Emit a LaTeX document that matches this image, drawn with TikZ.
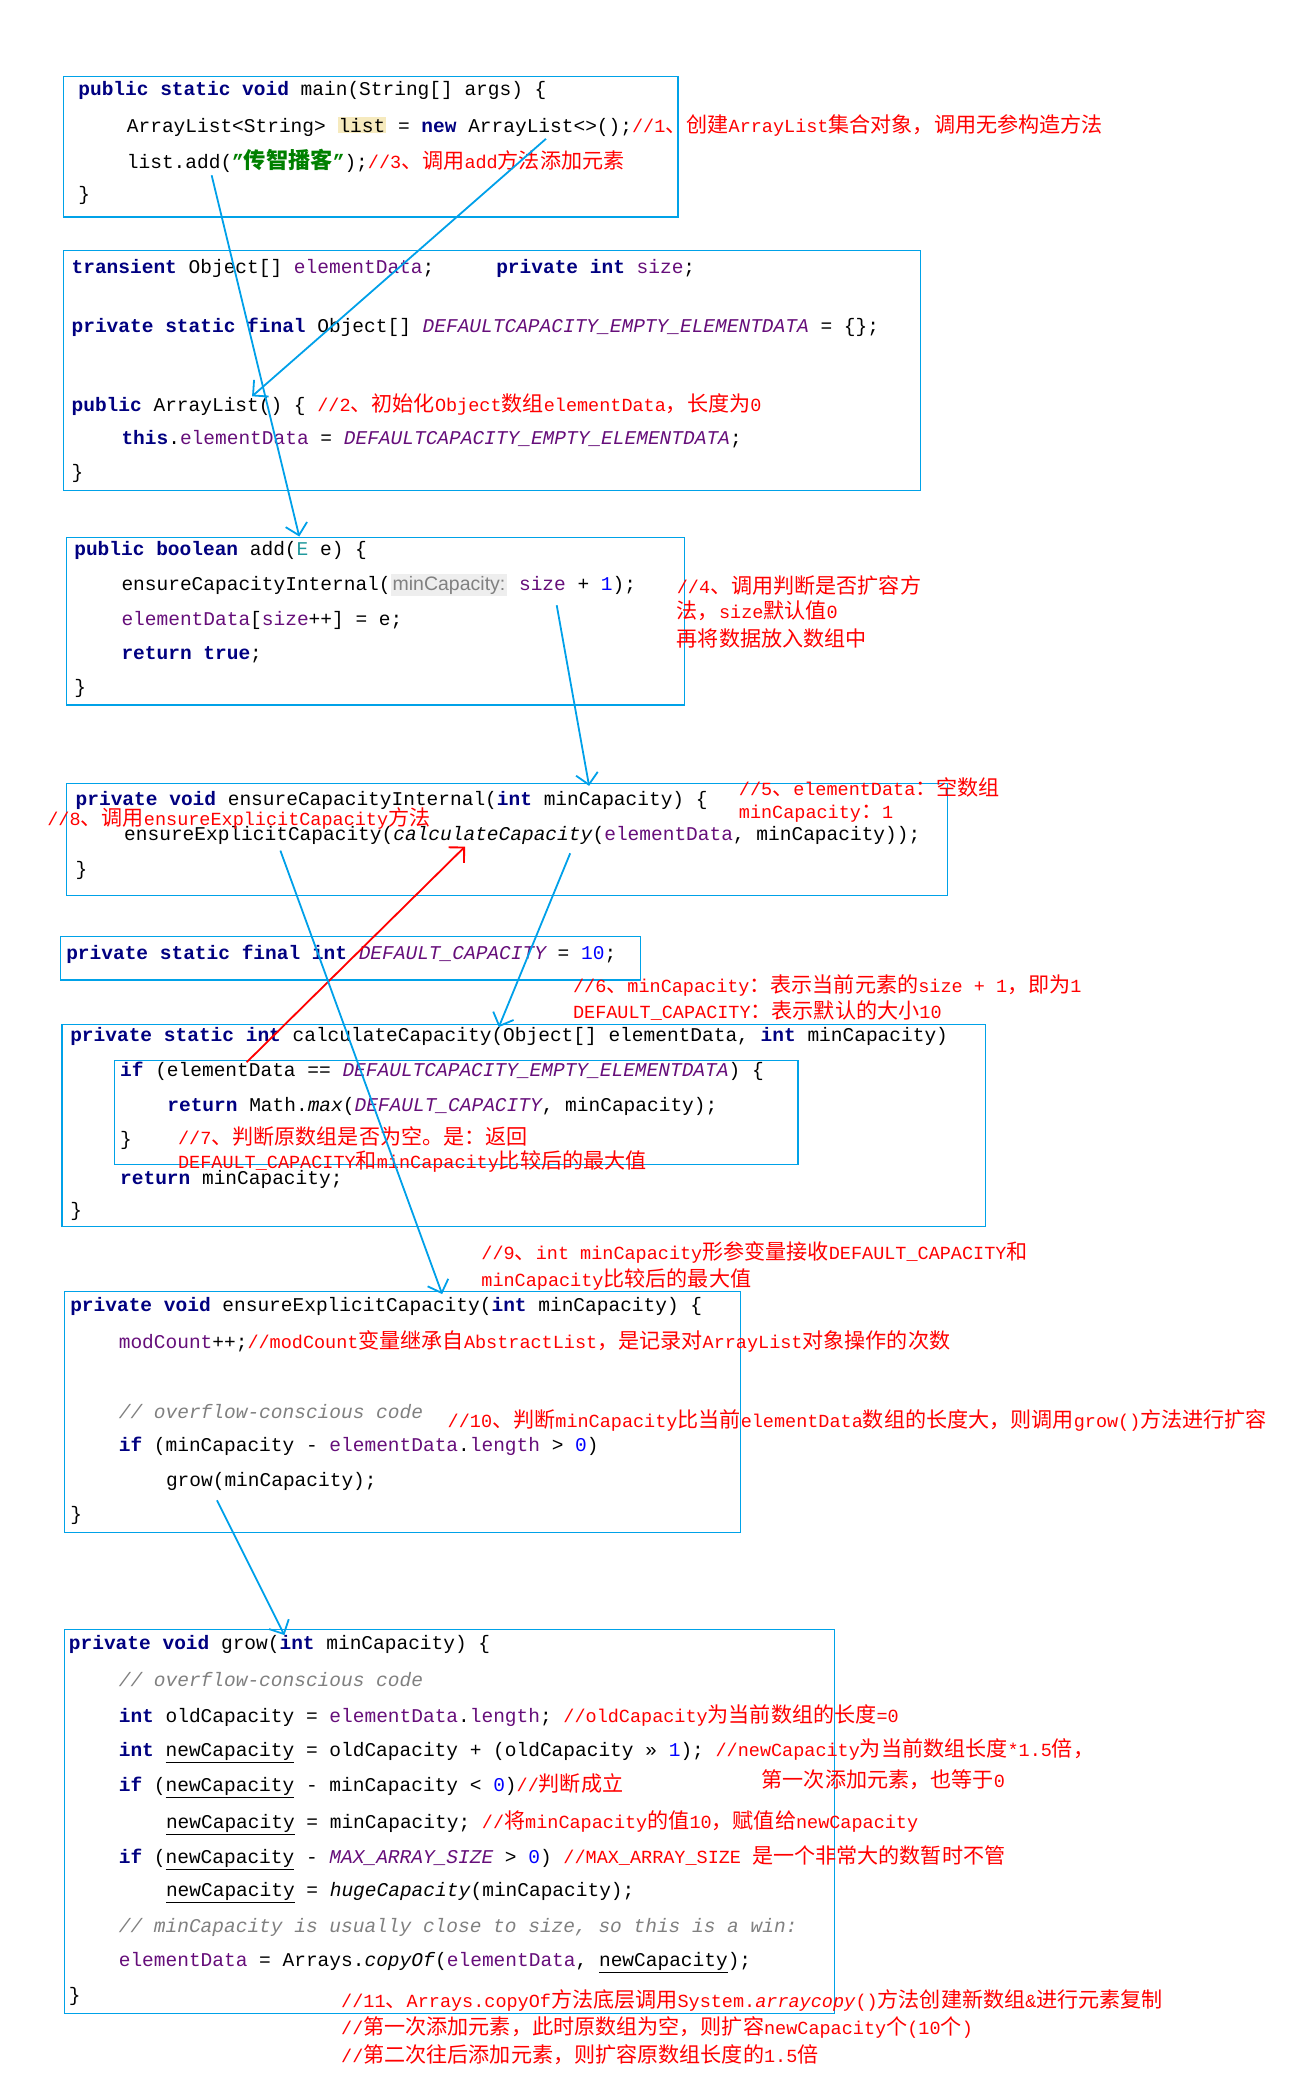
\documentclass[tikz,border=0pt]{standalone}
\usepackage{fontspec}
\usetikzlibrary{arrows.meta,fit}
\setmainfont{Liberation Mono}
\setsansfont{Liberation Sans}
\newfontfamily\cjk{Noto Sans CJK SC}[Scale=1.14]
\XeTeXinterchartokenstate=1
\newXeTeXintercharclass\cjkclass
\count255="3000
\loop\XeTeXcharclass\count255=\cjkclass\ifnum\count255<"303F \advance\count255 by 1 \repeat
\count255="4E00
\loop\XeTeXcharclass\count255=\cjkclass\ifnum\count255<"9FFF \advance\count255 by 1 \repeat
\count255="FF00
\loop\XeTeXcharclass\count255=\cjkclass\ifnum\count255<"FFEF \advance\count255 by 1 \repeat
\XeTeXinterchartoks 0 \cjkclass={\begingroup\cjk}
\XeTeXinterchartoks 4095 \cjkclass={\begingroup\cjk}
\XeTeXinterchartoks \cjkclass 0={\endgroup}
\XeTeXinterchartoks \cjkclass 4095={\endgroup}
\definecolor{kwc}{RGB}{0,0,128}
\definecolor{fdc}{RGB}{102,14,122}
\definecolor{nmc}{RGB}{0,0,255}
\definecolor{stc}{RGB}{0,128,0}
\definecolor{cmc}{RGB}{128,128,128}
\definecolor{rdc}{RGB}{255,0,0}
\definecolor{bxc}{RGB}{0,162,232}
\definecolor{arc}{RGB}{0,160,233}
\newcommand\kw[1]{{\bfseries\color{kwc}#1}}
\newcommand\fd[1]{{\color{fdc}#1}}
\newcommand\fdi[1]{{\itshape\color{fdc}#1}}
\newcommand\nm[1]{{\color{nmc}#1}}
\newcommand\cmt[1]{{\itshape\color{cmc}#1}}
\newcommand\rcm[1]{{\fontsize{18.5}{19}\selectfont\color{rdc}#1}}
\newcommand\ul[1]{\underline{#1}}
\tikzset{
  code/.style={anchor=west,inner sep=0pt,font=\fontsize{19.5}{20}\selectfont},
  note/.style={anchor=west,inner sep=0pt,text=rdc,font=\fontsize{18.5}{19}\selectfont},
  box/.style={draw=bxc,line width=1.1pt,inner sep=0pt},
  flow/.style={draw=arc,line width=1.8pt,-{Straight Barb[length=11pt,width=22pt]}},
  flowr/.style={draw=rdc,line width=1.8pt,-{Straight Barb[length=11pt,width=22pt]}}
}
\begin{document}
\begin{tikzpicture}[x=1.348pt,y=-1.348pt]
\useasboundingbox[fill=white] (0,0) rectangle (966,1556.4);
% boxes
\node[box,fit={(47,57)(503,161)}] (b1) {};
\node[box,fit={(47,186)(683,364)}] (b2) {};
\node[box,fit={(49,399)(508,523)}] (b3) {};
\node[box,fit={(49,581)(703,664)}] (b4) {};
\node[box,fit={(45,695)(475,727)}] (b5) {};
\node[box,fit={(46,760)(731,910)}] (b6) {};
\node[box,fit={(85,787)(592,864)}] (b6i) {};
\node[box,fit={(48,958)(549,1137)}] (b7) {};
\node[box,fit={(48,1209)(619,1494)}] (b8) {};
% box 1
\node[code] (t11) at (58,67) {\kw{public} \kw{static} \kw{void} main(String[] args) \{};
\node[code] (t12) at (94,93) {ArrayList<String> {\fboxsep=1pt\colorbox[RGB]{246,234,190}{list}} = \kw{new} ArrayList<>();\rcm{//1、创建ArrayList集合对象，调用无参构造方法}};
\node[code] (t13) at (94,119) {list.add({\bfseries\color{stc}"传智播客"});\rcm{//3、调用add方法添加元素}};
\node[code] (t14) at (58,145) {\}};
% box 2
\node[code] (t21) at (53,199) {\kw{transient} Object[] \fd{elementData};};
\node[code] (t22) at (368,199) {\kw{private} \kw{int} \fd{size};};
\node[code] (t23) at (53,243) {\kw{private} \kw{static} \kw{final} Object[] \fdi{DEFAULTCAPACITY\_EMPTY\_ELEMENTDATA} = \{\};};
\node[code] (t24) at (53,300) {\kw{public} ArrayList() \{ \rcm{//2、初始化Object数组elementData，长度为0}};
\node[code] (t25) at (90,326) {\kw{this}.\fd{elementData} = \fdi{DEFAULTCAPACITY\_EMPTY\_ELEMENTDATA};};
\node[code] (t26) at (53,351) {\}};
% box 3
\node[code] (t31) at (55,408) {\kw{public} \kw{boolean} add({\color[RGB]{32,153,157}E} e) \{};
\node[code] (t32) at (90,434) {ensureCapacityInternal({\fboxsep=2pt\colorbox[RGB]{238,238,238}{\sffamily\color{cmc}minCapacity:}} \fd{size} + \nm{1});};
\node[code] (t33) at (90,460) {\fd{elementData}[\fd{size}++] = e;};
\node[code] (t34) at (90,486) {\kw{return} \kw{true};};
\node[code] (t35) at (55,511) {\}};
\node[note] (n4a) at (502,434) {//4、调用判断是否扩容方};
\node[note] (n4b) at (502,453) {法，size默认值0};
\node[note] (n4c) at (502,474) {再将数据放入数组中};
% box 4
\node[code] (t41) at (56,594) {\kw{private} \kw{void} ensureCapacityInternal(\kw{int} minCapacity) \{};
\node[code] (t42) at (92,620) {ensureExplicitCapacity(\textit{calculateCapacity}(\fd{elementData}, minCapacity));};
\node[code] (t43) at (56,646) {\}};
\node[note] (n5a) at (548,584) {//5、elementData：空数组};
\node[note] (n5b) at (548,604) {minCapacity：1};
\node[note] (n8) at (35,607) {//8、调用ensureExplicitCapacity方法};
% box 5
\node[code] (t51) at (49,708) {\kw{private} \kw{static} \kw{final} \kw{int} \fdi{DEFAULT\_CAPACITY} = \nm{10};};
\node[note] (n6a) at (425,731) {//6、minCapacity：表示当前元素的size + 1，即为1};
\node[note] (n6b) at (425,750) {DEFAULT\_CAPACITY：表示默认的大小10};
% box 6
\node[code] (t61) at (52,769) {\kw{private} \kw{static} \kw{int} calculateCapacity(Object[] elementData, \kw{int} minCapacity)};
\node[code] (t62) at (89,795) {\kw{if} (elementData == \fdi{DEFAULTCAPACITY\_EMPTY\_ELEMENTDATA}) \{};
\node[code] (t63) at (124,821) {\kw{return} Math.\textit{max}(\fdi{DEFAULT\_CAPACITY}, minCapacity);};
\node[code] (t64) at (89,846) {\}};
\node[code] (t65) at (89,875) {\kw{return} minCapacity;};
\node[code] (t66) at (52,899) {\}};
\node[note] (n7a) at (132,843) {//7、判断原数组是否为空。是：返回};
\node[note] (n7b) at (132,862) {DEFAULT\_CAPACITY和minCapacity比较后的最大值};
\node[note] (n9a) at (357,929) {//9、int minCapacity形参变量接收DEFAULT\_CAPACITY和};
\node[note] (n9b) at (357,949) {minCapacity比较后的最大值};
% box 7
\node[code] (t71) at (52,969) {\kw{private} \kw{void} ensureExplicitCapacity(\kw{int} minCapacity) \{};
\node[code] (t72) at (88,995) {\fd{modCount}++;\rcm{//modCount变量继承自AbstractList，是记录对ArrayList对象操作的次数}};
\node[code] (t73) at (88,1047) {\cmt{// overflow-conscious code}};
\node[note] (n10) at (332,1054) {//10、判断minCapacity比当前elementData数组的长度大，则调用grow()方法进行扩容};
\node[code] (t74) at (88,1073) {\kw{if} (minCapacity - \fd{elementData}.\fd{length} > \nm{0})};
\node[code] (t75) at (123,1099) {grow(minCapacity);};
\node[code] (t76) at (52,1124) {\}};
% box 8
\node[code] (t81) at (51,1220) {\kw{private} \kw{void} grow(\kw{int} minCapacity) \{};
\node[code] (t82) at (88,1246) {\cmt{// overflow-conscious code}};
\node[code] (t83) at (88,1273) {\kw{int} oldCapacity = \fd{elementData}.\fd{length}; \rcm{//oldCapacity为当前数组的长度=0}};
\node[code] (t84) at (88,1299) {\kw{int} \ul{newCapacity} = oldCapacity + (oldCapacity >> \nm{1}); \rcm{//newCapacity为当前数组长度*1.5倍，}};
\node[note] (n84) at (565,1320) {第一次添加元素，也等于0};
\node[code] (t85) at (88,1325) {\kw{if} (\ul{newCapacity} - minCapacity < \nm{0})\rcm{//判断成立}};
\node[code] (t86) at (123,1352) {\ul{newCapacity} = minCapacity; \rcm{//将minCapacity的值10，赋值给newCapacity}};
\node[code] (t87) at (88,1378) {\kw{if} (\ul{newCapacity} - \fdi{MAX\_ARRAY\_SIZE} > \nm{0}) \rcm{//MAX\_ARRAY\_SIZE 是一个非常大的数暂时不管}};
\node[code] (t88) at (123,1404) {\ul{newCapacity} = \textit{hugeCapacity}(minCapacity);};
\node[code] (t89) at (88,1430) {\cmt{// minCapacity is usually close to size, so this is a win:}};
\node[code] (t8a) at (88,1456) {\fd{elementData} = Arrays.\textit{copyOf}(\fd{elementData}, \ul{newCapacity});};
\node[code] (t8b) at (51,1481) {\}};
\node[note] (n11a) at (253,1484) {//11、Arrays.copyOf方法底层调用System.\textit{arraycopy}()方法创建新数组\&进行元素复制};
\node[note] (n11b) at (253,1504) {//第一次添加元素，此时原数组为空，则扩容newCapacity个(10个)};
\node[note] (n11c) at (253,1524) {//第二次往后添加元素，则扩容原数组长度的1.5倍};
% connector end points
\coordinate (a1s) at (157,130); \coordinate (a1e) at (222,398);
\coordinate (a2s) at (405,103); \coordinate (a2e) at (187,294);
\coordinate (a3s) at (413,449); \coordinate (a3e) at (437,583);
\coordinate (a4s) at (423,633); \coordinate (a4e) at (370,762);
\coordinate (a5s) at (183,788); \coordinate (a5e) at (345,628);
\coordinate (a6s) at (208,631); \coordinate (a6e) at (328,960);
\coordinate (a7s) at (161,1113); \coordinate (a7e) at (211,1213);
\draw[flow] (a1s) -- (a1e);
\draw[flow] (a2s) -- (a2e);
\draw[flow] (a3s) -- (a3e);
\draw[flow] (a4s) -- (a4e);
\draw[flowr] (a5s) -- (a5e);
\draw[flow] (a6s) -- (a6e);
\draw[flow] (a7s) -- (a7e);
\end{tikzpicture}
\end{document}
